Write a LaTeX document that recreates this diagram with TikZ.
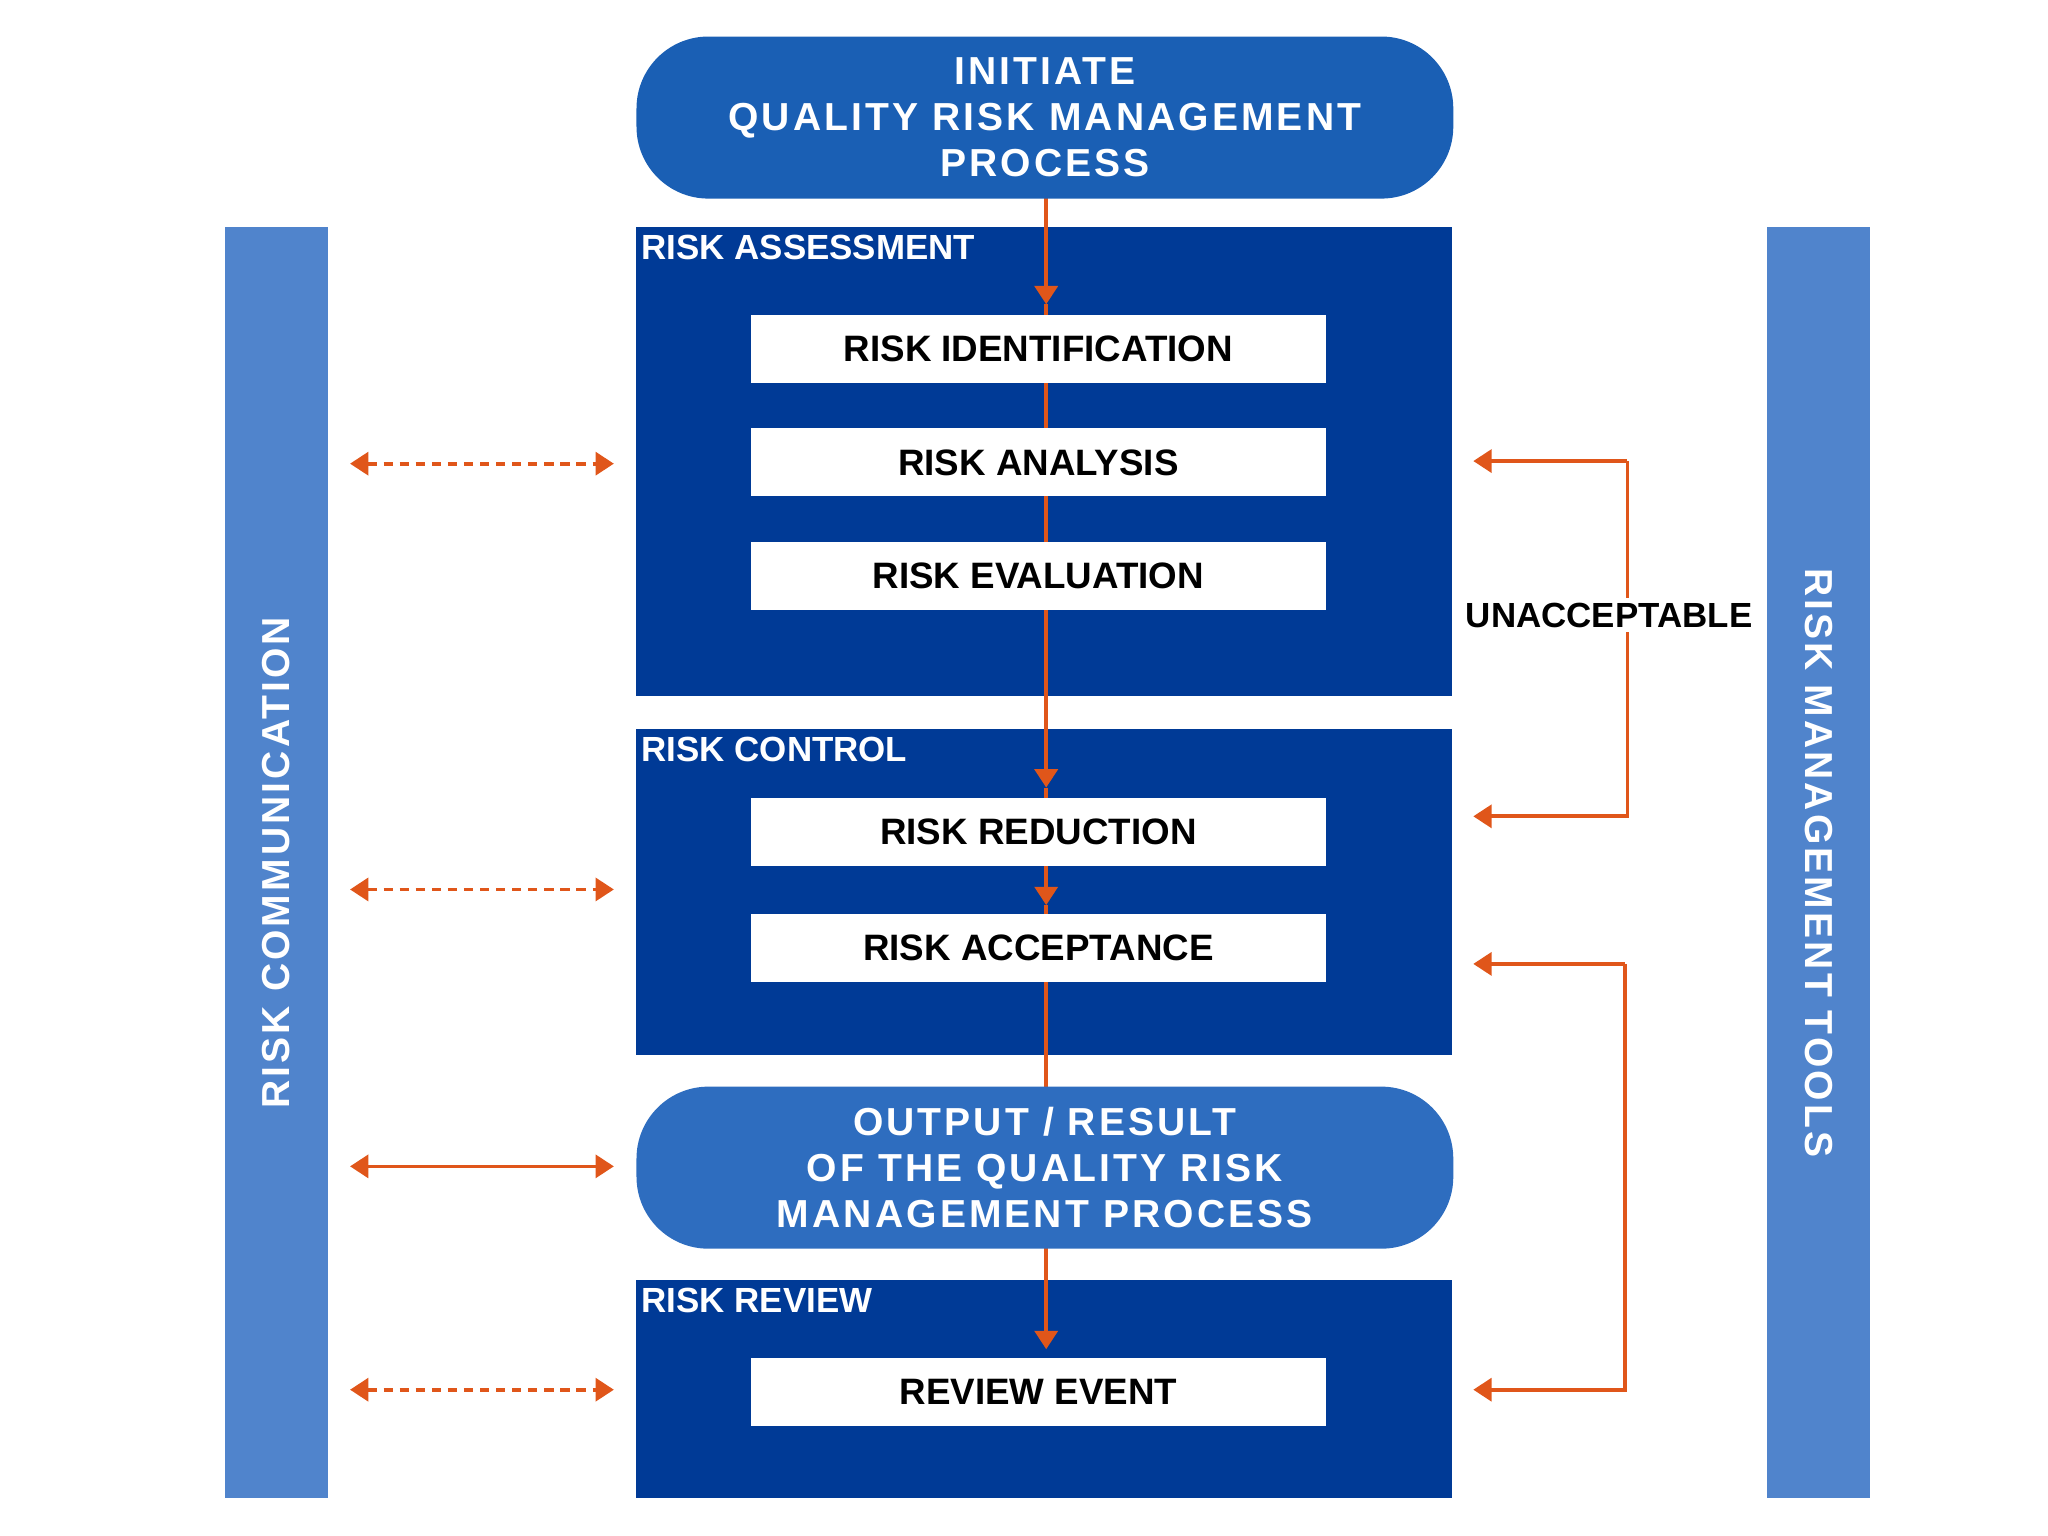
\documentclass[tikz,border=0pt]{standalone}
\usepackage{fontspec}
\setmainfont{Liberation Sans}
\usetikzlibrary{arrows.meta}
\definecolor{midblue}{HTML}{1A5FB4}
\definecolor{darkblue}{HTML}{003A96}
\definecolor{barblue}{HTML}{5084CC}
\definecolor{outblue}{HTML}{2E6DBF}
\definecolor{rorange}{HTML}{E0561A}
\tikzset{
  phase/.style={fill=darkblue,draw=none},
  task box/.style={fill=white,minimum width=4.4cm,minimum height=0.52cm,inner sep=0pt,
    font=\bfseries\fontsize{8}{10}\selectfont},
  round box/.style={fill=midblue,rounded corners=0.55cm,minimum width=6.25cm,minimum height=1.24cm,
    text=white,align=center,font=\bfseries\fontsize{8.5}{10}\selectfont\addfontfeatures{LetterSpace=8}},
  phase title/.style={anchor=north west,text=white,inner sep=1pt,font=\bfseries\fontsize{7.6}{9}\selectfont},
  bar/.style={fill=barblue,minimum width=0.79cm,minimum height=9.73cm,inner sep=0pt},
  bar text/.style={text=white,font=\bfseries\fontsize{8.5}{10}\selectfont\addfontfeatures{LetterSpace=8}},
  link/.style={rorange,thick,-{Triangle[width=5pt,length=4pt]}},
  two/.style={rorange,thick,{Triangle[width=5pt,length=4pt]}-{Triangle[width=5pt,length=4pt]}},
  dashline/.style={dash pattern=on 2pt off 1.5pt},
  solidline/.style={solid}
}
\begin{document}
\begin{tikzpicture}[x=0.01cm,y=-0.01cm]
  \useasboundingbox (0,0) rectangle (1568,1176);
  % phases
  \fill[phase] (487,174) rectangle (1112,533);
  \fill[phase] (487,558) rectangle (1112,808);
  \fill[phase] (487,980) rectangle (1112,1147);
  \node[phase title] at (487,176) {RISK ASSESSMENT};
  \node[phase title] at (487,560) {RISK CONTROL};
  \node[phase title] at (487,982) {RISK REVIEW};
  % main flow
  \coordinate (a1) at (801,233);
  \coordinate (a2) at (801,603);
  \coordinate (a3) at (801,693);
  \coordinate (a4) at (801,1033);
  \draw[link] (801,150) -- (a1);
  \draw[rorange,thick] (a1) -- (801,460);
  \draw[link] (801,460) -- (a2);
  \draw[link] (a2) -- (a3);
  \draw[link] (a3) -- (a4);
  \node[round box] (init) at (800,90) {INITIATE\\QUALITY RISK MANAGEMENT\\PROCESS};
  \node[round box,fill=outblue] (out) at (800,894) {OUTPUT / RESULT\\OF THE QUALITY RISK\\MANAGEMENT PROCESS};
  \node[task box] (ident) at (795,267) {RISK IDENTIFICATION};
  \node[task box] (anal) at (795,354) {RISK ANALYSIS};
  \node[task box] (eval) at (795,441) {RISK EVALUATION};
  \node[task box] (red) at (795,637) {RISK REDUCTION};
  \node[task box] (acc) at (795,726) {RISK ACCEPTANCE};
  \node[task box] (rev) at (795,1066) {REVIEW EVENT};
  % side bars
  \node[bar] (comm) at (211.5,660.5) {};
  \node[bar] (tools) at (1392.5,660.5) {};
  \node[bar text,rotate=90] at (comm) {RISK COMMUNICATION};
  \node[bar text,rotate=-90] at (tools) {RISK MANAGEMENT TOOLS};
  % communication arrows
  \foreach \y/\s in {355/dashline,681/dashline,893/solidline,1064/dashline}
    \draw[two,\s] (268,\y) -- (470,\y);
  % feedback
  \coordinate (u1) at (1128,353);
  \coordinate (u2) at (1128,625);
  \coordinate (r1) at (1128,738);
  \coordinate (r2) at (1128,1064);
  \draw[link] (1246,353) -- (u1);
  \draw[link] (1246,353) -- (1246,625) -- (u2);
  \draw[link] (1244,738) -- (r1);
  \draw[link] (1244,738) -- (1244,1064) -- (r2);
  \node[fill=white,inner sep=1pt,font=\bfseries\fontsize{7.6}{9}\selectfont] (unacc) at (1232,471) {UNACCEPTABLE};
\end{tikzpicture}
\end{document}
